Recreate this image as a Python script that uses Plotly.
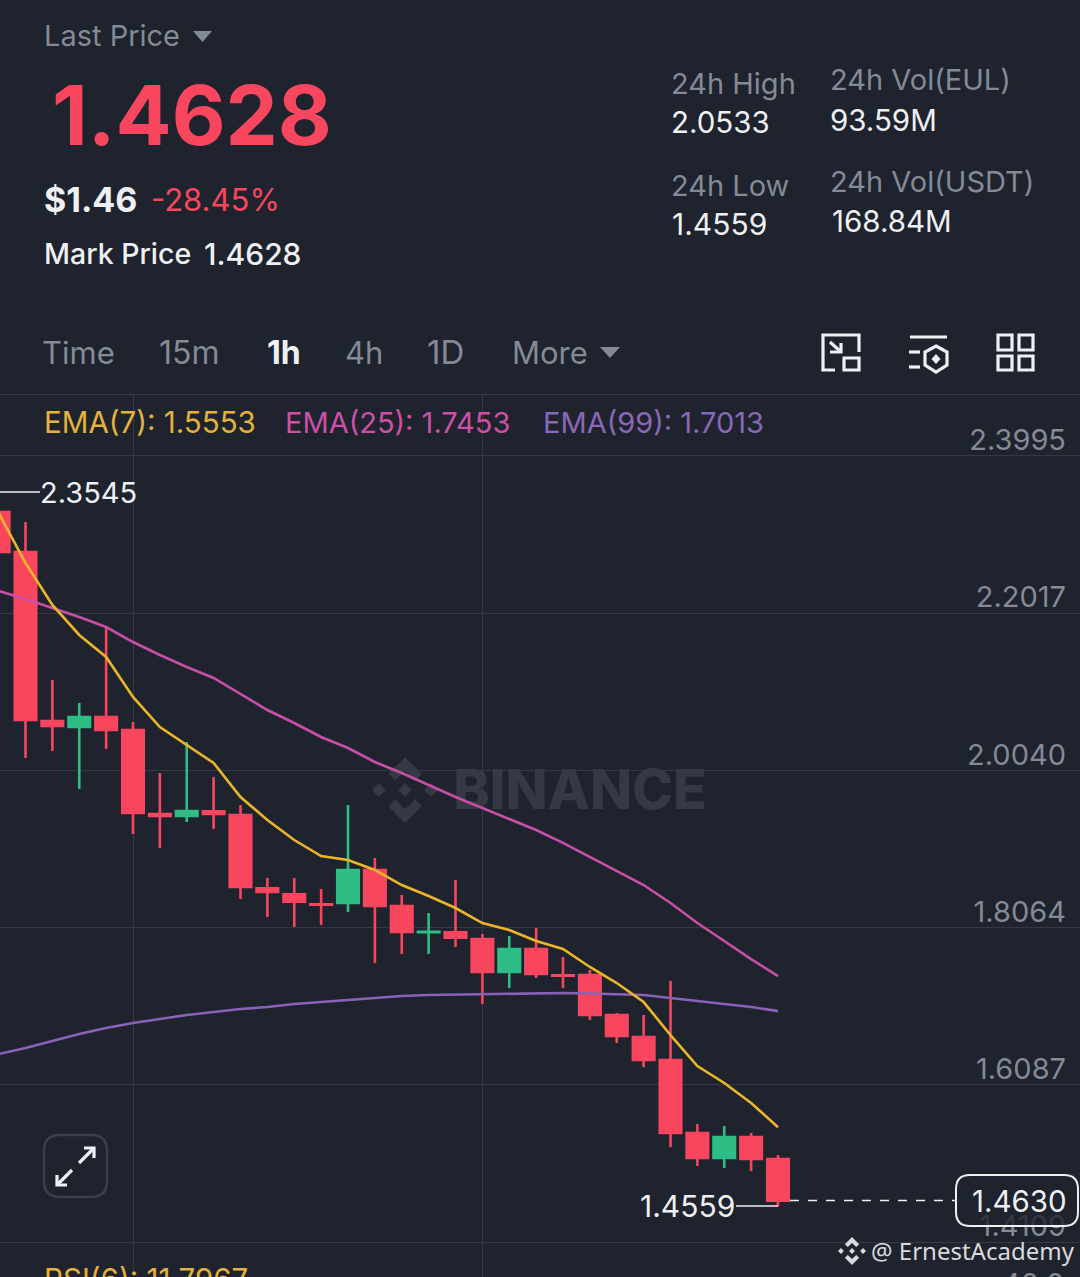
import plotly.graph_objects as go

W = 1080
H = 1277

BG = '#1e232d'
RED = '#f9465f'
GREEN = '#2ebd85'
GREY = '#848a96'
WHITE = '#eef0f3'
GRID = '#343944'

# candles
candle_x = list(range(30))
opens = [2.3291, 2.2788, 2.0660, 2.0586, 2.0712, 2.0549, 1.9490, 1.9468, 1.9527, 1.9479,
         1.8559, 1.8483, 1.8356, 1.8373, 1.8788, 1.8335, 1.8005, 1.8005, 1.7920, 1.7505,
         1.7794, 1.7463, 1.7467, 1.6964, 1.6687, 1.6398, 1.5480, 1.5165, 1.5429, 1.5153]
closes = [2.2788, 2.0674, 2.0600, 2.0712, 2.0549, 1.9505, 1.9469, 1.9528, 1.9494, 1.8574,
          1.8513, 1.8388, 1.8352, 1.8788, 1.8335, 1.8008, 1.8010, 1.7935, 1.7505, 1.7794,
          1.7480, 1.7459, 1.6964, 1.6700, 1.6398, 1.5480, 1.5165, 1.5429, 1.5153, 1.4630]
highs = [2.3545, 2.3165, 2.1178, 2.0888, 2.1844, 2.0649, 2.0008, 2.0398, 1.9957, 1.9605,
         1.8687, 1.8687, 1.8549, 1.9605, 1.8939, 1.8473, 1.8247, 1.8662, 1.7983, 1.7958,
         1.8058, 1.7693, 1.7530, 1.6989, 1.6964, 1.7392, 1.5593, 1.5568, 1.5480, 1.5203]
lows = [2.2687, 2.0196, 2.0284, 1.9807, 2.0310, 1.9241, 1.9064, 1.9391, 1.9303, 1.8423,
        1.8197, 1.8071, 1.8096, 1.8259, 1.7618, 1.7731, 1.7731, 1.7819, 1.7102, 1.7303,
        1.7429, 1.7303, 1.6901, 1.6612, 1.6310, 1.5304, 1.5065, 1.5039, 1.5002, 1.4559]

ema7 = [2.3278, 2.2649, 2.2121, 2.1744, 2.1467, 2.0964, 2.0586, 2.0360, 2.0134, 1.9706,
        1.9417, 1.9165, 1.8964, 1.8913, 1.8788, 1.8599, 1.8461, 1.8310, 1.8121, 1.8033,
        1.7895, 1.7794, 1.7568, 1.7366, 1.7127, 1.6712, 1.6322, 1.6109, 1.5857, 1.5553]
ema25 = [2.2297, 2.2196, 2.2083, 2.1970, 2.1844, 2.1655, 2.1492, 2.1341, 2.1203, 2.1001,
         2.0800, 2.0637, 2.0461, 2.0322, 2.0146, 2.0008, 1.9857, 1.9706, 1.9568, 1.9430,
         1.9291, 1.9130, 1.8951, 1.8775, 1.8599, 1.8373, 1.8121, 1.7895, 1.7668, 1.7453]
ema99 = [1.6473, 1.6549, 1.6637, 1.6725, 1.6800, 1.6863, 1.6914, 1.6964, 1.7002, 1.7039,
         1.7065, 1.7102, 1.7127, 1.7153, 1.7178, 1.7203, 1.7215, 1.7222, 1.7228, 1.7234,
         1.7241, 1.7241, 1.7234, 1.7228, 1.7215, 1.7178, 1.7140, 1.7102, 1.7065, 1.7013]

price_ticks = [2.3995, 2.2017, 2.0040, 1.8064, 1.6087, 1.4109]
price_labels = ['2.3995', '2.2017', '2.0040', '1.8064', '1.6087', '1.4109']
time_ticks = [5, 18]

last_price = 1.4630
FONT = 'Inter'


def px(x):
    return x / W


def py(y):
    return 1 - y / H


def label(x, y, s, size, color, anchor='left', weight=400, family=FONT):
    fig.add_annotation(x=px(x), y=py(y), xref='paper', yref='paper', text=s,
                       showarrow=False, xanchor=anchor, yanchor='middle', borderpad=0,
                       font=dict(family=family, size=size, color=color, weight=weight))


def path(points, close=True):
    d = 'M' + ' L'.join(f'{px(a):.5f},{py(b):.5f}' for a, b in points)
    return d + (' Z' if close else '')


def shape_path(points, color=None, line=None, width=0, close=True, layer='above'):
    fig.add_shape(type='path', path=path(points, close), xref='paper', yref='paper', layer=layer,
                  fillcolor=color if color else 'rgba(0,0,0,0)',
                  line=dict(color=line if line else 'rgba(0,0,0,0)', width=width))


def seg(x0, y0, x1, y1, color=WHITE, width=3.2):
    fig.add_shape(type='line', x0=px(x0), y0=py(y0), x1=px(x1), y1=py(y1), xref='paper', yref='paper',
                  line=dict(color=color, width=width))


def box(x0, y0, x1, y1, color=WHITE, width=3.2):
    fig.add_shape(type='rect', x0=px(x0), y0=py(y0), x1=px(x1), y1=py(y1), xref='paper', yref='paper',
                  line=dict(color=color, width=width))


def round_box(x0, y0, x1, y1, r, color, width, fill='rgba(0,0,0,0)'):
    d = (f'M{px(x0 + r):.5f},{py(y0):.5f} L{px(x1 - r):.5f},{py(y0):.5f} '
         f'Q{px(x1):.5f},{py(y0):.5f} {px(x1):.5f},{py(y0 + r):.5f} '
         f'L{px(x1):.5f},{py(y1 - r):.5f} Q{px(x1):.5f},{py(y1):.5f} {px(x1 - r):.5f},{py(y1):.5f} '
         f'L{px(x0 + r):.5f},{py(y1):.5f} Q{px(x0):.5f},{py(y1):.5f} {px(x0):.5f},{py(y1 - r):.5f} '
         f'L{px(x0):.5f},{py(y0 + r):.5f} Q{px(x0):.5f},{py(y0):.5f} {px(x0 + r):.5f},{py(y0):.5f} Z')
    fig.add_shape(type='path', path=d, xref='paper', yref='paper', fillcolor=fill,
                  line=dict(color=color, width=width))


def binance_logo(cx, cy, r, color, layer):
    chevron = [(0, -1), (0.51, -0.49), (0.30, -0.28), (0, -0.58), (-0.30, -0.28), (-0.51, -0.49)]
    shape_path([(cx + a * r, cy + b * r) for a, b in chevron], color, layer=layer)
    shape_path([(cx + a * r, cy - b * r) for a, b in chevron], color, layer=layer)
    for dx in (-0.79, 0, 0.79):
        s = 0.21 * r
        c = cx + dx * r
        shape_path([(c, cy - s), (c + s, cy), (c, cy + s), (c - s, cy)], color, layer=layer)


fig = go.Figure()

# watermark goes in first so the EMA lines run over it
fig.add_trace(go.Scatter(x=[21.63], y=[1.9725], mode='text', text=['BINANCE'],
                         textfont=dict(family=FONT, size=55, color='#343944', weight=800),
                         showlegend=False, hoverinfo='skip'))

fig.add_trace(go.Candlestick(
    x=candle_x, open=opens, high=highs, low=lows, close=closes,
    increasing=dict(line=dict(color=GREEN, width=2.6), fillcolor=GREEN),
    decreasing=dict(line=dict(color=RED, width=2.6), fillcolor=RED),
    whiskerwidth=0, showlegend=False,
))

fig.add_trace(go.Scatter(x=candle_x, y=ema99, mode='lines', line=dict(color='#8a62b8', width=2.6), showlegend=False))
fig.add_trace(go.Scatter(x=candle_x, y=ema25, mode='lines', line=dict(color='#c94fa6', width=2.6), showlegend=False))
fig.add_trace(go.Scatter(x=candle_x, y=ema7, mode='lines', line=dict(color='#ebb52a', width=2.6), showlegend=False))

fig.update_layout(
    width=W, height=H,
    margin=dict(l=0, r=0, t=0, b=0),
    paper_bgcolor=BG, plot_bgcolor=BG,
    boxgap=0.2, boxgroupgap=0,
    showlegend=False,
    xaxis=dict(
        domain=[0, 1], range=[0.051, 40.237], side='top',
        rangeslider=dict(visible=False),
        tickmode='array', tickvals=time_ticks, showticklabels=False, ticks='',
        showgrid=True, gridcolor=GRID, gridwidth=1, zeroline=False,
        showline=True, linecolor=GRID, linewidth=1,
    ),
    yaxis=dict(
        domain=[0, 882 / H], range=[1.3669, 2.4762], side='right',
        tickmode='array', tickvals=price_ticks, ticktext=price_labels,
        ticklabelposition='inside', ticklabelstandoff=11, ticklabelshift=-16, ticks='',
        tickfont=dict(family=FONT, size=29, color=GREY),
        showgrid=True, gridcolor=GRID, gridwidth=1, zeroline=False, showline=False,
    ),
)

binance_logo(405, 790, 33, '#343944', 'below')

# header
label(43, 36, 'Last Price', 29, GREY)
shape_path([(193, 31), (212, 31), (202.5, 42)], GREY)
label(51, 115, '1.4628', 83, RED, weight=700)
label(43, 199, '$1.46', 34, WHITE, weight=700)
label(150, 200, '-28.45%', 31, RED)
label(43, 254, 'Mark Price', 28.5, WHITE, weight=500)
label(203, 254, '1.4628', 30, WHITE, weight=500)

label(670, 83, '24h High', 29, GREY)
label(670, 122, '2.0533', 29.5, WHITE)
label(829, 80, '24h Vol(EUL)', 29, GREY)
label(829, 120, '93.59M', 29.5, WHITE)
label(670, 185, '24h Low', 29, GREY)
label(671, 224, '1.4559', 30, WHITE)
label(829, 181, '24h Vol(USDT)', 29, GREY)
label(831, 221, '168.84M', 29.5, WHITE)

# tabs
label(41, 352, 'Time', 31, GREY)
label(158, 352, '15m', 32, GREY)
label(266, 352, '1h', 32, WHITE, weight=700)
label(344, 352, '4h', 31, GREY)
label(426, 352, '1D', 33, GREY)
label(511, 352, 'More', 31, GREY)
shape_path([(600, 347), (620, 347), (610, 358)], GREY)

# toolbar icons
shape_path([(835, 370), (823, 370), (823, 335), (859, 335), (859, 352)], line=WHITE, width=3.2, close=False)
box(844, 358, 859, 370)
seg(830, 342, 841, 352)
shape_path([(830, 352), (841, 352), (841, 343)], line=WHITE, width=3.2, close=False)

seg(910, 337, 947, 337)
seg(909, 352, 920, 352)
seg(909, 367, 920, 367)
shape_path([(936, 346), (947, 352), (947, 365), (936, 372), (925, 365), (925, 352)], line=WHITE, width=3.2)
shape_path([(936, 354), (940.5, 359), (936, 364), (931.5, 359)], WHITE)

box(998, 335, 1012, 350)
box(1019, 335, 1033, 350)
box(998, 356, 1012, 370)
box(1019, 356, 1033, 370)

# indicator legend
label(43, 422, 'EMA(7): 1.5553', 29.5, '#e3b23c')
label(284, 422, 'EMA(25): 1.7453', 29, '#cf4fa6')
label(542, 422, 'EMA(99): 1.7013', 29, '#8a68b8')

# high and low markers
seg(0, 492, 40, 492, WHITE, 1.5)
label(39, 492, '2.3545', 29, WHITE)
seg(736, 1206, 778, 1206, WHITE, 1.5)
label(639, 1206, '1.4559', 30, WHITE)

# last price tag
fig.add_shape(type='line', x0=px(790), x1=px(955), y0=last_price, y1=last_price, xref='paper', yref='y',
              line=dict(color=WHITE, width=1.5, dash='dash'))
round_box(956, 1175, 1078, 1226, 14, WHITE, 2, 'rgba(30,35,45,0.8)')
label(1019, 1201, '1.4630', 29.5, WHITE, anchor='center')

# expand button
round_box(44, 1135, 107, 1197, 16, '#3a3f4a', 2.5)
seg(79, 1163, 93, 1149)
shape_path([(84, 1148), (94, 1148), (94, 1158)], line=WHITE, width=3.2, close=False)
seg(72, 1170, 58, 1184)
shape_path([(57, 1175), (57, 1185), (67, 1185)], line=WHITE, width=3.2, close=False)

# bottom edge
label(43, 1279, 'RSI(6): 11.7967', 29.5, '#e3b23c')
label(1065, 1283, '40.0', 29, GREY, anchor='right')
binance_logo(852, 1251, 14, '#d8dade', 'above')
label(870, 1250, '@ ErnestAcademy', 24, '#d8dade', family='Noto Sans')

fig.write_html("out.html", config=dict(displayModeBar=False),
               post_script="document.body.style.margin='0';document.body.style.background='#1e232d';")
